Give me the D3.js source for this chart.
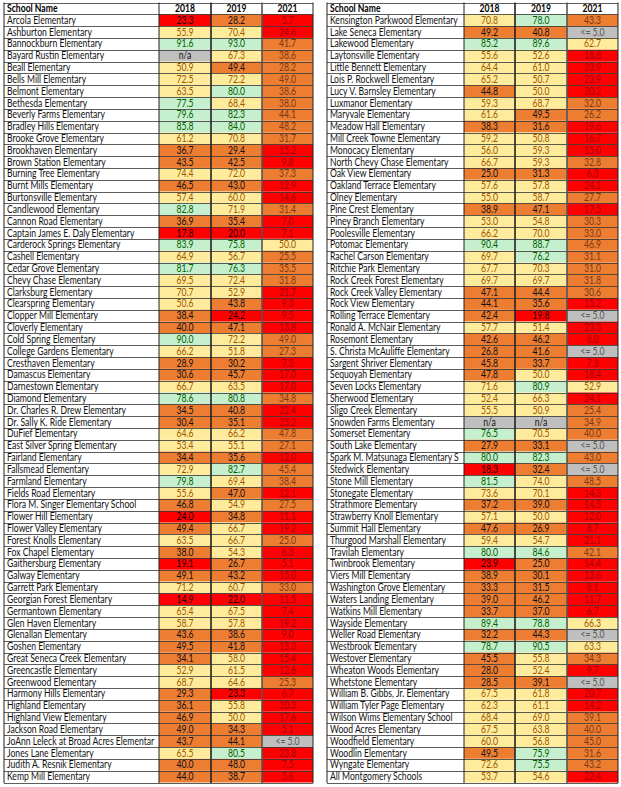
<!DOCTYPE html>
<html>
<head>
<meta charset="utf-8">
<script src="https://cdn.jsdelivr.net/npm/d3@7.9.0/dist/d3.min.js"></script>
<style>
  body { margin: 0; background: #fff; }
  svg { display: block; font-family: Lato, "Liberation Sans", sans-serif; }
</style>
</head>
<body>
<svg id="chart" width="621" height="787"></svg>
<script>
const years = ['2018', '2019', '2021'];

const leftNames = [
  'Arcola Elementary', 'Ashburton Elementary', 'Bannockburn Elementary', 'Bayard Rustin Elementary',
  'Beall Elementary', 'Bells Mill Elementary', 'Belmont Elementary', 'Bethesda Elementary',
  'Beverly Farms Elementary', 'Bradley Hills Elementary', 'Brooke Grove Elementary', 'Brookhaven Elementary',
  'Brown Station Elementary', 'Burning Tree Elementary', 'Burnt Mills Elementary', 'Burtonsville Elementary',
  'Candlewood Elementary', 'Cannon Road Elementary', 'Captain James E. Daly Elementary', 'Carderock Springs Elementary',
  'Cashell Elementary', 'Cedar Grove Elementary', 'Chevy Chase Elementary', 'Clarksburg Elementary',
  'Clearspring Elementary', 'Clopper Mill Elementary', 'Cloverly Elementary', 'Cold Spring Elementary',
  'College Gardens Elementary', 'Cresthaven Elementary', 'Damascus Elementary', 'Darnestown Elementary',
  'Diamond Elementary', 'Dr. Charles R. Drew Elementary', 'Dr. Sally K. Ride Elementary', 'DuFief Elementary',
  'East Silver Spring Elementary', 'Fairland Elementary', 'Fallsmead Elementary', 'Farmland Elementary',
  'Fields Road Elementary', 'Flora M. Singer Elementary School', 'Flower Hill Elementary', 'Flower Valley Elementary',
  'Forest Knolls Elementary', 'Fox Chapel Elementary', 'Gaithersburg Elementary', 'Galway Elementary',
  'Garrett Park Elementary', 'Georgian Forest Elementary', 'Germantown Elementary', 'Glen Haven Elementary',
  'Glenallan Elementary', 'Goshen Elementary', 'Great Seneca Creek Elementary', 'Greencastle Elementary',
  'Greenwood Elementary', 'Harmony Hills Elementary', 'Highland Elementary', 'Highland View Elementary',
  'Jackson Road Elementary', 'JoAnn Leleck at Broad Acres Elementary', 'Jones Lane Elementary', 'Judith A. Resnik Elementary',
  'Kemp Mill Elementary'
];
const left2018 = [
  23.3, 55.9, 91.6, 'n/a', 50.9, 72.5, 63.5, 77.5, 79.6, 85.8, 61.2, 36.7, 43.5, 74.4, 46.5, 57.4,
  82.8, 36.9, 17.8, 83.9, 64.9, 81.7, 69.5, 70.7, 50.6, 38.4, 40.0, 90.0, 66.2, 28.9, 30.6, 66.7,
  78.6, 34.5, 30.4, 64.6, 53.4, 34.4, 72.9, 79.8, 55.6, 46.8, 24.0, 49.4, 63.5, 38.0, 19.1, 49.1,
  71.2, 14.9, 65.4, 58.7, 43.6, 49.5, 34.1, 52.9, 68.7, 29.3, 36.1, 46.9, 49.0, 43.7, 65.5, 40.0,
  44.0
];
const left2019 = [
  28.2, 70.4, 93.0, 67.3, 49.4, 72.2, 80.0, 68.4, 82.3, 84.0, 70.8, 29.4, 42.5, 72.0, 43.0, 60.0,
  71.9, 35.4, 20.0, 75.8, 56.7, 76.3, 72.4, 52.9, 43.8, 24.2, 47.1, 72.2, 51.8, 30.2, 45.7, 63.5,
  80.8, 40.8, 35.1, 66.2, 55.1, 35.6, 82.7, 69.4, 47.0, 54.9, 34.8, 66.7, 66.7, 54.3, 26.7, 43.2,
  60.7, 22.0, 67.5, 57.8, 38.6, 41.8, 58.0, 61.5, 64.6, 23.3, 55.8, 50.0, 34.3, 44.1, 80.5, 48.0,
  38.7
];
const left2021 = [
  5.7, 24.6, 41.7, 38.6, 28.2, 49.0, 38.6, 38.0, 44.1, 48.2, 31.7, 15.2, 9.8, 37.3, 12.9, 14.6,
  31.4, 7.0, 7.1, 50.0, 25.5, 35.5, 31.8, 21.7, 9.3, 9.5, 13.8, 49.0, 27.3, 7.3, 17.0, 17.0,
  34.8, 22.4, 23.2, 47.8, 27.1, 12.0, 45.4, 38.4, 12.1, 27.5, 11.1, 19.2, 25.0, 6.3, 5.1, 15.0,
  33.0, 11.5, 7.4, 19.2, 9.0, 13.3, 15.4, 12.6, 25.3, 6.7, 10.3, 17.6, 5.1, '<= 5.0', 23.8, 7.5,
  5.6
];

const rightNames = [
  'Kensington Parkwood Elementary', 'Lake Seneca Elementary', 'Lakewood Elementary', 'Laytonsville Elementary',
  'Little Bennett Elementary', 'Lois P. Rockwell Elementary', 'Lucy V. Barnsley Elementary', 'Luxmanor Elementary',
  'Maryvale Elementary', 'Meadow Hall Elementary', 'Mill Creek Towne Elementary', 'Monocacy Elementary',
  'North Chevy Chase Elementary', 'Oak View Elementary', 'Oakland Terrace Elementary', 'Olney Elementary',
  'Pine Crest Elementary', 'Piney Branch Elementary', 'Poolesville Elementary', 'Potomac Elementary',
  'Rachel Carson Elementary', 'Ritchie Park Elementary', 'Rock Creek Forest Elementary', 'Rock Creek Valley Elementary',
  'Rock View Elementary', 'Rolling Terrace Elementary', 'Ronald A. McNair Elementary', 'Rosemont Elementary',
  'S. Christa McAuliffe Elementary', 'Sargent Shriver Elementary', 'Sequoyah Elementary', 'Seven Locks Elementary',
  'Sherwood Elementary', 'Sligo Creek Elementary', 'Snowden Farms Elementary', 'Somerset Elementary',
  'South Lake Elementary', 'Spark M. Matsunaga Elementary School', 'Stedwick Elementary', 'Stone Mill Elementary',
  'Stonegate Elementary', 'Strathmore Elementary', 'Strawberry Knoll Elementary', 'Summit Hall Elementary',
  'Thurgood Marshall Elementary', 'Travilah Elementary', 'Twinbrook Elementary', 'Viers Mill Elementary',
  'Washington Grove Elementary', 'Waters Landing Elementary', 'Watkins Mill Elementary', 'Wayside Elementary',
  'Weller Road Elementary', 'Westbrook Elementary', 'Westover Elementary', 'Wheaton Woods Elementary',
  'Whetstone Elementary', 'William B. Gibbs, Jr. Elementary', 'William Tyler Page Elementary', 'Wilson Wims Elementary School',
  'Wood Acres Elementary', 'Woodfield Elementary', 'Woodlin Elementary', 'Wyngate Elementary',
  'All Montgomery Schools'
];
const right2018 = [
  70.8, 49.2, 85.2, 55.6, 64.4, 65.2, 44.8, 59.3, 61.6, 38.3, 59.2, 56.0, 66.7, 25.0, 57.6, 55.0,
  38.9, 53.0, 66.2, 90.4, 69.7, 67.7, 69.7, 47.1, 44.1, 42.4, 57.7, 42.6, 26.8, 45.8, 47.8, 71.6,
  52.4, 55.5, 'n/a', 76.5, 27.9, 80.0, 18.3, 81.5, 73.6, 37.2, 57.1, 47.6, 59.4, 80.0, 23.9, 38.9,
  33.3, 39.0, 33.7, 89.4, 32.2, 78.7, 45.5, 28.0, 28.5, 67.5, 62.3, 68.4, 67.5, 60.0, 49.5, 72.6,
  53.7
];
const right2019 = [
  78.0, 40.8, 89.6, 52.6, 61.0, 50.7, 50.0, 68.7, 49.5, 31.6, 50.8, 59.3, 59.3, 31.3, 57.8, 58.7,
  47.1, 54.8, 70.0, 88.7, 76.2, 70.3, 69.7, 44.4, 35.6, 19.8, 51.4, 46.2, 41.6, 33.7, 50.0, 80.9,
  66.3, 50.9, 'n/a', 70.5, 33.1, 82.3, 32.4, 74.0, 70.1, 39.0, 50.0, 26.9, 54.7, 84.6, 25.0, 30.1,
  31.5, 46.2, 37.0, 78.8, 44.3, 90.5, 55.8, 52.4, 39.1, 61.8, 61.1, 69.0, 63.8, 56.8, 75.9, 75.5,
  54.6
];
const right2021 = [
  43.3, '<= 5.0', 62.7, 18.8, 23.9, 23.9, 20.2, 32.0, 26.2, 19.6, 16.7, 15.0, 32.8, 6.3, 24.1, 27.7,
  17.5, 30.3, 33.0, 46.9, 31.1, 31.0, 31.8, 30.6, 15.2, '<= 5.0', 23.3, 8.0, '<= 5.0', 7.3, 18.4, 52.9,
  24.1, 25.4, 34.9, 40.0, '<= 5.0', 43.0, '<= 5.0', 48.5, 14.3, 14.3, 12.0, 8.7, 21.1, 42.1, 14.4, 13.6,
  8.1, 11.7, 6.7, 66.3, '<= 5.0', 63.3, 34.3, 9.7, '<= 5.0', 20.7, 14.2, 39.1, 40.0, 45.0, 31.6, 43.2,
  22.4
];

// fills and text colours by band: <25, 25-50, 50-75, >=75
const fill = d3.scaleThreshold().domain([25, 50, 75])
  .range(['#ff0000', '#ed7d31', '#ffeb9c', '#c6efce']);
const inkOld = d3.scaleThreshold().domain([25, 50, 75])
  .range(['#1a0000', '#111111', '#9c5700', '#006100']);
const ink2021 = d3.scaleThreshold().domain([25, 50, 75])
  .range(['#9c0006', '#7a3a14', '#9c5700', '#006100']);
const fmt = d3.format('.1f');

const FS = 10.5;      // font size
const SQUEEZE = 0.82; // horizontal squeeze to get a Calibri-like width

const svg = d3.select('#chart');

const rowCount = leftNames.length + 1;
const y = d3.scaleBand().domain(d3.range(rowCount)).range([2.5, 782.5]);
const baseline = i => y(i) + y.bandwidth() / 2 + 3.6;

// place a text at (x, y) squeezed horizontally; trim the end if it does not fit
function put(sel, xf, yf, maxW) {
  sel.attr('x', 0).attr('y', 0)
    .attr('transform', (d, i) => `translate(${xf(d, i)},${yf(d, i)}) scale(${SQUEEZE},1)`);
  if (maxW) {
    sel.each(function () {
      let s = this.textContent;
      while (this.getComputedTextLength() * SQUEEZE > maxW && s.length > 1) {
        s = s.slice(0, -1);
        this.textContent = s;
      }
    });
  }
}

const tables = [
  { names: leftNames, cols: [left2018, left2019, left2021], edges: [4, 159, 211, 262, 313] },
  { names: rightNames, cols: [right2018, right2019, right2021], edges: [327, 464, 515, 567, 618] }
];

tables.forEach((t, ti) => {
  const g = svg.append('g');
  const e = t.edges;

  const rows = t.names.map((name, i) => ({
    name, i: i + 1,
    vals: t.cols.map(c => c[i])
  }));

  // data cells
  years.forEach((yr, ci) => {
    const ink = ci === 2 ? ink2021 : inkOld;
    const cx = (e[ci + 1] + e[ci + 2]) / 2;
    const cells = g.selectAll('.c' + ci)
      .data(rows)
      .join('g')
      .attr('class', 'c' + ci);

    cells.append('rect')
      .attr('x', e[ci + 1])
      .attr('y', d => y(d.i))
      .attr('width', e[ci + 2] - e[ci + 1])
      .attr('height', y.bandwidth())
      .attr('fill', d => typeof d.vals[ci] === 'number' ? fill(d.vals[ci]) : '#bfbfbf');

    cells.append('text')
      .attr('text-anchor', 'middle')
      .attr('font-size', FS)
      .attr('fill', d => {
        const v = d.vals[ci];
        if (typeof v === 'number') return ink(v);
        return v === 'n/a' ? '#111' : '#5a5a5a';
      })
      .text(d => typeof d.vals[ci] === 'number' ? fmt(d.vals[ci]) : d.vals[ci])
      .call(put, () => cx, d => baseline(d.i));
  });

  g.selectAll('.nm')
    .data(rows)
    .join('text')
    .attr('class', 'nm')
    .attr('font-size', FS)
    .attr('fill', '#111')
    .text(d => d.name)
    .call(put, () => e[0] + 3, d => baseline(d.i), e[1] - e[0] - 5);

  // header
  g.append('text')
    .datum('School Name')
    .attr('font-size', FS)
    .attr('font-weight', 'bold')
    .text(d => d)
    .call(put, () => e[0] + 3, () => baseline(0));
  g.selectAll('.hd')
    .data(years)
    .join('text')
    .attr('class', 'hd')
    .attr('text-anchor', 'middle')
    .attr('font-size', FS)
    .attr('font-weight', 'bold')
    .text(d => d)
    .call(put, (d, i) => (e[i + 1] + e[i + 2]) / 2, () => baseline(0));

  // grid
  const yEdge = i => Math.round(i === rowCount ? y.range()[1] : y(i)) + 0.5;
  g.selectAll('.hl')
    .data(d3.range(rowCount + 1))
    .join('line')
    .attr('class', 'hl')
    .attr('x1', e[0]).attr('x2', e[4])
    .attr('y1', yEdge)
    .attr('y2', yEdge)
    .attr('stroke', '#333')
    .attr('stroke-width', 0.8);

  g.selectAll('.vl')
    .data(e)
    .join('line')
    .attr('class', 'vl')
    .attr('x1', d => d).attr('x2', d => d)
    .attr('y1', y.range()[0]).attr('y2', y.range()[1] + 0.5)
    .attr('stroke', (d, i) => i === 3 ? '#555' : '#222')
    .attr('stroke-width', (d, i) => i === 2 || i === 3 ? 1.6 : 1);
});
</script>
</body>
</html>
